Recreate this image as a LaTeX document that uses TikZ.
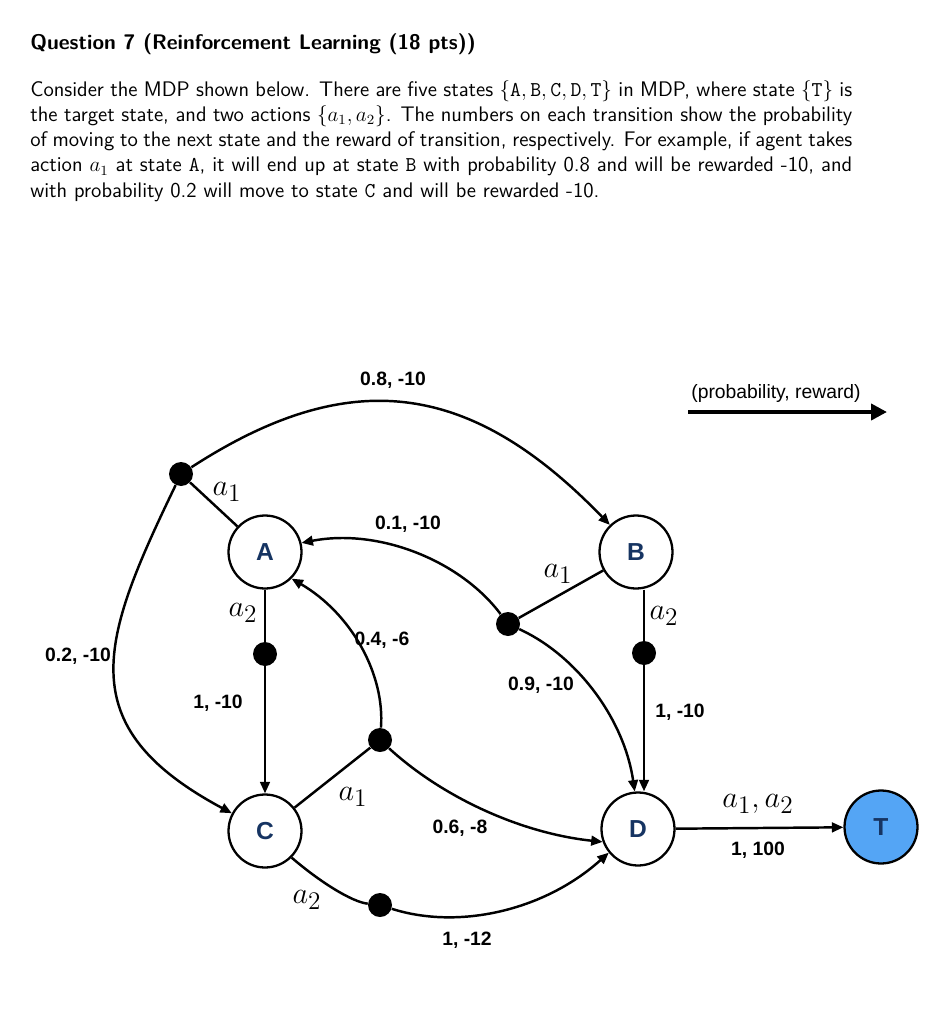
\documentclass[tikz,border=0pt]{standalone}
\usepackage{fontspec}
\newfontfamily\hv{Liberation Sans}
\usetikzlibrary{arrows.meta}
\definecolor{navy}{RGB}{22,52,98}
\definecolor{tblue}{RGB}{84,165,245}
\begin{document}
\begin{tikzpicture}[x=0.02cm,y=-0.02cm,
  state/.style={circle,draw,line width=1.3pt,minimum size=1.46cm,inner sep=0pt,
    font=\hv\bfseries\fontsize{14}{16}\selectfont,text=navy},
  dot/.style={circle,fill=black,inner sep=0pt,minimum size=0.48cm},
  edge/.style={line width=1.4pt},
  arr/.style={edge,-{Triangle[length=6.5pt,width=5.5pt]}},
  lbl/.style={font=\hv\bfseries\fontsize{11}{13}\selectfont},
  act/.style={font=\fontsize{19}{22}\selectfont},
  para/.style={anchor=base west,inner sep=0pt,font=\sffamily\fontsize{12}{14}\selectfont}
]
\useasboundingbox (0,0) rectangle (947,1024);
% text
\node[anchor=base west,inner sep=0pt,font=\sffamily\bfseries\fontsize{12}{15}\selectfont] (title) at (30,50) {Question 7 (Reinforcement Learning (18 pts))};
\node[para] (l1) at (30,96) {\makebox[16.44cm][s]{Consider the MDP shown below. There are five states $\{\mathtt{A},\mathtt{B},\mathtt{C},\mathtt{D},\mathtt{T}\}$ in MDP, where state $\{\mathtt{T}\}$ is}};
\node[para] (l2) at (30,121.3) {\makebox[16.44cm][s]{the target state, and two actions $\{a_1,a_2\}$. The numbers on each transition show the probability}};
\node[para] (l3) at (30,146.6) {\makebox[16.44cm][s]{of moving to the next state and the reward of transition, respectively. For example, if agent takes}};
\node[para] (l4) at (30,171.9) {\makebox[16.44cm][s]{action $a_1$ at state \texttt{A}, it will end up at state \texttt{B} with probability 0.8 and will be rewarded -10, and}};
\node[para] (l5) at (30,197.2) {with probability 0.2 will move to state \texttt{C} and will be rewarded -10.};

% states
\node[state] (A) at (265,552) {A};
\node[state] (B) at (636,552) {B};
\node[state] (C) at (265,831) {C};
\node[state] (D) at (638,829) {D};
\node[state,fill=tblue] (T) at (881,827) {T};
% decision dots
\node[dot] (dA1) at (181,474) {};
\node[dot] (dA2) at (265,654) {};
\node[dot] (dB1) at (508,624) {};
\node[dot] (dB2) at (644,653) {};
\node[dot] (dC1) at (380,740) {};
\node[dot] (dC2) at (380,905) {};

% action lines
\draw[edge] (dA1) -- (A);
\draw[edge] (A) -- (dA2);
\draw[edge] (dB1) -- (B);
\draw[edge] (B.south -| dB2) -- (dB2);
\draw[edge] (C) -- (dC1);
\draw[edge] (C.-45) .. controls (320,882) and (352,902) .. (dC2);

% transitions
\draw[arr] (dA1) .. controls (349,365) and (470,380) .. (B);
\draw[arr] (dA1) .. controls (101,640) and (69,726) .. (C);
\draw[arr] (dA2) -- (C);
\draw[arr] (dB1) .. controls (460,560) and (378,528) .. (A.14);
\draw[arr] (dB1) .. controls (576,655) and (624,718) .. (D.95);
\draw[arr] (dB2) -- (dB2 |- D.north);
\draw[arr] (dC1) .. controls (385,675) and (352,614) .. (A.-45);
\draw[arr] (dC1) .. controls (441,796) and (519,833) .. (D.200);
\draw[arr] (dC2) .. controls (458,930) and (544,911) .. (D.219);
\draw[arr] (D) -- (T);

% labels
\node[lbl] (p1) at (393,380) {0.8, -10};
\node[lbl] (p2) at (408,524) {0.1, -10};
\node[lbl] (p3) at (78,656) {0.2, -10};
\node[lbl] (p4) at (218,703) {1, -10};
\node[lbl] (p5) at (382,640) {0.4, -6};
\node[lbl] (p6) at (541,685) {0.9, -10};
\node[lbl] (p7) at (680,712) {1, -10};
\node[lbl] (p8) at (460,828) {0.6, -8};
\node[lbl] (p9) at (467,940) {1, -12};
\node[lbl] (p10) at (758,850) {1, 100};

\node[act] (x1) at (227,492) {$a_1$};
\node[act] (x2) at (243,613) {$a_2$};
\node[act] (x3) at (558,574) {$a_1$};
\node[act] (x4) at (664,616) {$a_2$};
\node[act] (x5) at (353,797) {$a_1$};
\node[act] (x6) at (307,900) {$a_2$};
\node[act] (x7) at (758,804) {$a_1,a_2$};

% legend
\coordinate (L1) at (688,412);
\coordinate (L2) at (887,412);
\draw[line width=2.2pt,-{Triangle[length=9pt,width=9pt]}] (L1) -- (L2);
\node[font=\hv\fontsize{11}{13}\selectfont] (leg) at (776,393) {(probability, reward)};
\end{tikzpicture}
\end{document}
